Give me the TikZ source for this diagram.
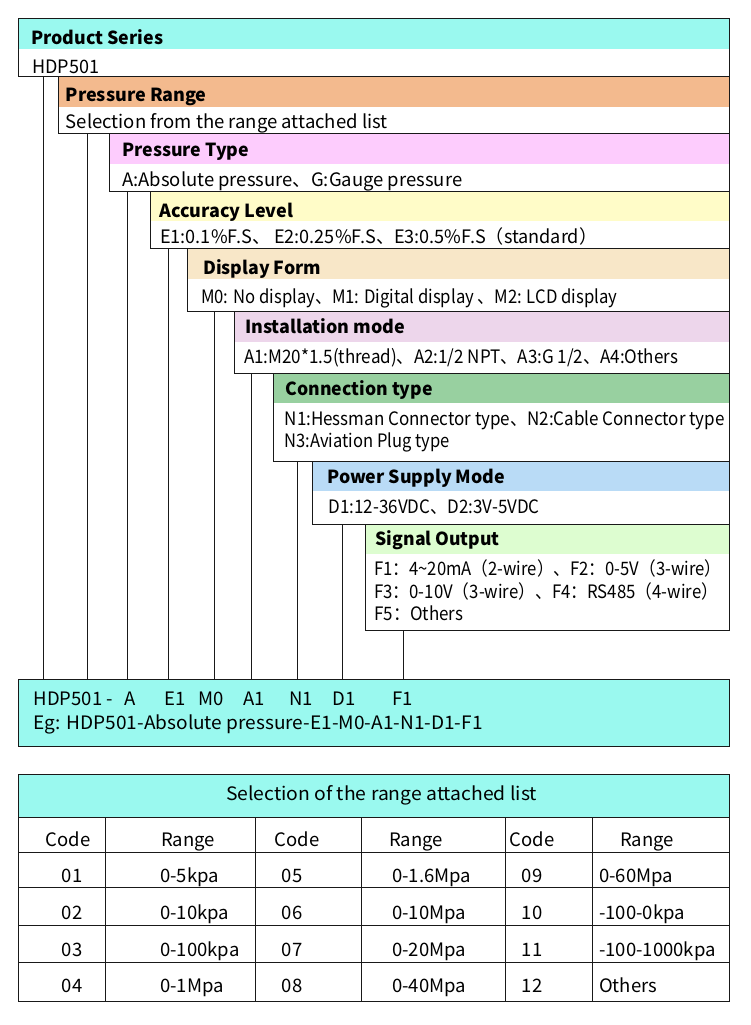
\documentclass[tikz,border=0pt]{standalone}
\usepackage{fontspec}
\usepackage{graphicx}
\setmainfont{Noto Sans CJK SC}
\usetikzlibrary{fit}
\definecolor{cCyan}{HTML}{9AF9EF}
\definecolor{cOrange}{HTML}{F3BA8E}
\definecolor{cPink}{HTML}{FDCCFD}
\definecolor{cYellow}{HTML}{FFFCC8}
\definecolor{cBeige}{HTML}{F8E7C8}
\definecolor{cLav}{HTML}{EDD6EB}
\definecolor{cGreen}{HTML}{98D0A0}
\definecolor{cBlue}{HTML}{B9DBF6}
\definecolor{cLGreen}{HTML}{DDFDD0}
\newcommand\fw[2]{\resizebox{#1pt}{\height}{#2}}
\tikzset{
  frame/.style={draw=black!90, line width=0.9pt, inner sep=0pt},
  conn/.style={draw=black!90, line width=0.8pt},
  hd/.style={anchor=base west, inner sep=0pt, font=\bfseries\fontsize{18}{20}\selectfont},
  tx/.style={anchor=base west, inner sep=0pt, font=\fontsize{18.5}{22}\selectfont},
  tc/.style={anchor=base, inner sep=0pt, font=\fontsize{18.5}{22}\selectfont},
}
\begin{document}
\begin{tikzpicture}[x=1pt,y=-1pt]
\useasboundingbox (0,0) rectangle (750,1025);
% header fills
\fill[cCyan]   (18,18)  rectangle (729,49);
\fill[cOrange] (58,76)  rectangle (729,107);
\fill[cPink]   (109,133) rectangle (729,164);
\fill[cYellow] (150,191) rectangle (729,221);
\fill[cBeige]  (187,248) rectangle (729,279);
\fill[cLav]    (234,311) rectangle (729,342);
\fill[cGreen]  (273,373) rectangle (729,403);
\fill[cBlue]   (312,461) rectangle (729,491);
\fill[cLGreen] (365,524) rectangle (729,554);
% boxes
\node[frame, fit={(18,18) (729,76)}] (b1) {};
\node[frame, fit={(58,76) (729,133)}] (b2) {};
\node[frame, fit={(109,133) (729,191)}] (b3) {};
\node[frame, fit={(150,191) (729,248)}] (b4) {};
\node[frame, fit={(187,248) (729,311)}] (b5) {};
\node[frame, fit={(234,311) (729,373)}] (b6) {};
\node[frame, fit={(273,373) (729,461)}] (b7) {};
\node[frame, fit={(312,461) (729,524)}] (b8) {};
\node[frame, fit={(365,524) (729,630)}] (b9) {};
% texts
\node[hd] (h1) at (31,45) {\fw{132}{Product Series}};
\node[tx] (t1) at (32,73.5) {\fw{67}{HDP501}};
\node[hd] (h2) at (65.5,102) {\fw{141}{Pressure Range}};
\node[tx] (t2) at (65.5,128.5) {\fw{322}{Selection from the range attached list}};
\node[hd] (h3) at (122,156.5) {\fw{127}{Pressure Type}};
\node[tx] (t3) at (122,186) {\fw{340}{A:Absolute pressure、G:Gauge pressure}};
\node[hd] (h4) at (159,217) {\fw{134}{Accuracy Level}};
\node[tx] (t4) at (160,243) {\fw{437}{E1:0.1\%F.S、 E2:0.25\%F.S、E3:0.5\%F.S（standard）}};
\node[hd] (h5) at (203,274.5) {\fw{118}{Display Form}};
\node[tx] (t5) at (201,303.5) {\fw{416}{M0: No display、M1: Digital display 、M2: LCD display}};
\node[hd] (h6) at (245,333) {\fw{160}{Installation mode}};
\node[tx] (t6) at (244,363) {\fw{434}{A1:M20*1.5(thread)、A2:1/2 NPT、A3:G 1/2、A4:Others}};
\node[hd] (h7) at (285.5,395.5) {\fw{147}{Connection type}};
\node[tx] (t7) at (284.5,425.5) {\fw{440}{N1:Hessman Connector type、N2:Cable Connector type}};
\node[tx] (t7b) at (284.5,447) {\fw{165}{N3:Aviation Plug type}};
\node[hd] (h8) at (327,483.5) {\fw{178}{Power Supply Mode}};
\node[tx] (t8) at (328.5,513) {\fw{211}{D1:12-36VDC、D2:3V-5VDC}};
\node[hd] (h9) at (375.5,545.5) {\fw{124}{Signal Output}};
\node[tx] (t9) at (374,575.5) {\fw{347}{F1：4\char"7E 20mA（2-wire）、F2：0-5V（3-wire）}};
\node[tx] (t9b) at (374,598) {\fw{344}{F3：0-10V（3-wire）、F4：RS485（4-wire）}};
\node[tx] (t9c) at (374,620) {\fw{89}{F5：Others}};
% result box
\node[frame, fill=cCyan, fit={(18,679) (729,746)}] (res) {};
\node[tx] (r0) at (33.5,705) {HDP501 -};
\node[tc] (rA) at (130,705) {A};
\node[tc] (rE) at (175,705) {E1};
\node[tc] (rM) at (211,705) {M0};
\node[tc] (rA1) at (254,705) {A1};
\node[tc] (rN) at (301,705) {N1};
\node[tc] (rD) at (344,705) {D1};
\node[tc] (rF) at (403,705) {F1};
\node[tx] (eg) at (33.5,729) {\fw{449}{Eg: HDP501-Absolute pressure-E1-M0-A1-N1-D1-F1}};
% connectors
\coordinate (x1) at (43,0);
\coordinate (x2) at (87,0);
\coordinate (x3) at (127,0);
\coordinate (x4) at (168,0);
\coordinate (x5) at (214,0);
\coordinate (x6) at (251,0);
\coordinate (x7) at (297,0);
\coordinate (x8) at (342,0);
\coordinate (x9) at (403,0);
\draw[conn] (b1.south -| x1) -- (res.north -| x1);
\draw[conn] (b2.south -| x2) -- (res.north -| x2);
\draw[conn] (b3.south -| x3) -- (res.north -| x3);
\draw[conn] (b4.south -| x4) -- (res.north -| x4);
\draw[conn] (b5.south -| x5) -- (res.north -| x5);
\draw[conn] (b6.south -| x6) -- (res.north -| x6);
\draw[conn] (b7.south -| x7) -- (res.north -| x7);
\draw[conn] (b8.south -| x8) -- (res.north -| x8);
\draw[conn] (b9.south -| x9) -- (res.north -| x9);
% table
\fill[cCyan] (18,774) rectangle (729,817);
\node[frame, fit={(18,774) (729,1001)}] (tab) {};
\foreach \yy in {817,852,887,925,962} \draw[conn] (18,\yy) -- (729,\yy);
\foreach \xx in {105,255,361,505,592} \draw[conn] (\xx,817) -- (\xx,1001);
\node[tc] (th) at (381.5,800) {\fw{311}{Selection of the range attached list}};
\node[tc] at (68,846) {Code};
\node[tc] at (188,846) {Range};
\node[tc] at (297,846) {Code};
\node[tc] at (416,846) {Range};
\node[tc] at (532,846) {Code};
\node[tc] at (647,846) {Range};
\foreach \y/\ca/\ra/\cb/\rb/\cc/\rc in {882/01/0-5kpa/05/0-1.6Mpa/09/0-60Mpa,
  919/02/0-10kpa/06/0-10Mpa/10/-100-0kpa,
  956/03/0-100kpa/07/0-20Mpa/11/-100-1000kpa,
  992.5/04/0-1Mpa/08/0-40Mpa/12/Others}{
  \node[tc] at (72,\y) {\ca};
  \node[tx] at (160,\y) {\ra};
  \node[tc] at (292,\y) {\cb};
  \node[tx] at (392,\y) {\rb};
  \node[tc] at (532,\y) {\cc};
  \node[tx] at (599,\y) {\rc};
}
\end{tikzpicture}
\end{document}
